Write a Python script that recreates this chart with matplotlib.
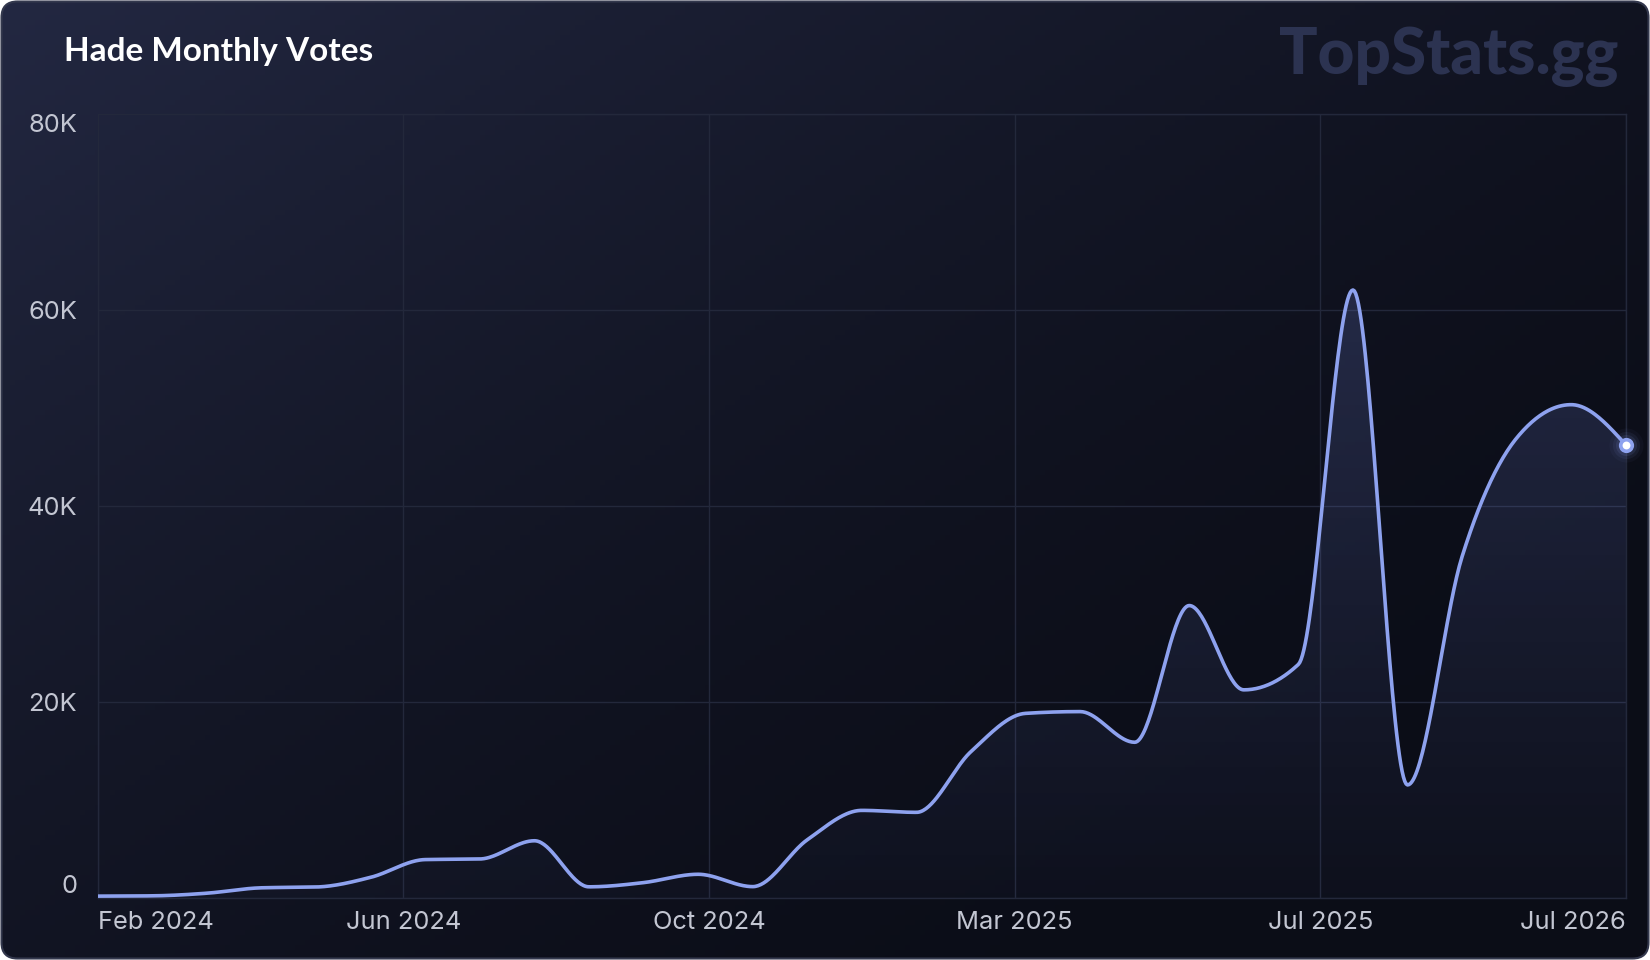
import numpy as np
import matplotlib
matplotlib.use("Agg")
import matplotlib.pyplot as plt
from matplotlib.patches import FancyBboxPatch, Polygon
from matplotlib.colors import LinearSegmentedColormap, to_rgb

# monthly votes, one value per point on the category axis
votes = [150, 180, 450, 1000, 1080, 2070, 3880, 3940, 5800, 1100,
         1530, 2380, 1120, 5900, 8900, 8700, 14900, 18800, 18980, 15850,
         29800, 21200, 23800, 62000, 11500, 34800, 46900, 50300, 46200]
tick_labels = ["Feb 2024", "Jun 2024", "Oct 2024", "Mar 2025", "Jul 2025", "Jul 2026"]
y_ticks = [0, 20000, 40000, 60000, 80000]
y_labels = ["0", "20K", "40K", "60K", "80K"]

LINE = "#8ea2ef"
GRID = "#23283b"
TXT = "#c3c6d2"
W, H = 1650, 960


def monotone(x, y, n=40):
    # d3 curveMonotoneX style (Steffen) hermite interpolation
    x = np.asarray(x, float); y = np.asarray(y, float)
    h = np.diff(x); s = np.diff(y) / h
    t = np.zeros_like(y)
    for i in range(1, len(y) - 1):
        p = (s[i - 1] * h[i] + s[i] * h[i - 1]) / (h[i - 1] + h[i])
        t[i] = (np.sign(s[i - 1]) + np.sign(s[i])) * min(abs(s[i - 1]), abs(s[i]), 0.5 * abs(p))
    t[0] = (3 * s[0] - t[1]) / 2
    t[-1] = (3 * s[-1] - t[-2]) / 2
    xs, ys = [], []
    for i in range(len(h)):
        u = np.linspace(0, 1, n, endpoint=(i == len(h) - 1))
        h00 = 2 * u**3 - 3 * u**2 + 1; h10 = u**3 - 2 * u**2 + u
        h01 = -2 * u**3 + 3 * u**2; h11 = u**3 - u**2
        xs.append(x[i] + u * h[i])
        ys.append(h00 * y[i] + h10 * h[i] * t[i] + h01 * y[i + 1] + h11 * h[i] * t[i + 1])
    return np.concatenate(xs), np.concatenate(ys)


fig = plt.figure(figsize=(W / 100, H / 100), dpi=100)
fig.patch.set_facecolor("white")

# card background
bg = fig.add_axes([0, 0, 1, 1]); bg.set_xlim(0, W); bg.set_ylim(H, 0); bg.axis("off")
gx, gy = np.meshgrid(np.linspace(0, 1, 330), np.linspace(0, 1, 192))
tt = np.clip((gx * 0.6 + gy * 0.55), 0, 1)
k = (1 - tt) ** 1.6
light = np.array(to_rgb("#232842")); dark = np.array(to_rgb("#0b0d17"))
img = dark + (light - dark) * k[..., None]
card = FancyBboxPatch((1.5, 1.5), W - 3, H - 3, boxstyle="round,pad=0,rounding_size=16",
                      fc="none", ec="#33384d", lw=1.5, transform=bg.transData, zorder=3)
bg.add_patch(card)
im = bg.imshow(img, extent=[0, W, H, 0], aspect="auto", zorder=1)
im.set_clip_path(card)

fig.text(64 / W, 1 - 52 / H, "Hade Monthly Votes", color="white", fontsize=24,
         fontweight="bold", family=["Lato", "DejaVu Sans"], va="center", ha="left")
fig.text(1618 / W, 1 - 57 / H, "TopStats.gg", color="#2c3351", fontsize=46,
         fontweight="black", family=["Lato", "DejaVu Sans"], va="center", ha="right")

ax = fig.add_axes([97.9 / W, 1 - 897.6 / H, (1625.8 - 97.9) / W, (897.6 - 113.6) / H])
ax.set_facecolor("none")
n = len(votes)
xi = np.arange(n)
ax.set_xlim(0, n - 1); ax.set_ylim(0, 80000)

xs, ys = monotone(xi, votes)

# gradient fill under the line
cmap = LinearSegmentedColormap.from_list("f", [(0.45, 0.52, 0.85, 0.03), (0.45, 0.52, 0.85, 0.22)])
grad = np.linspace(0, 1, 256)[:, None]
fill_im = ax.imshow(grad, extent=[0, n - 1, 0, max(votes)], origin="lower", aspect="auto",
                    cmap=cmap, zorder=1)
poly = Polygon(np.column_stack([np.r_[xs, xs[-1], xs[0]], np.r_[ys, 0, 0]]),
               closed=True, fc="none", ec="none", transform=ax.transData)
ax.add_patch(poly)
fill_im.set_clip_path(poly)

ax.plot(xs, ys, color=LINE, lw=2.6, zorder=3, solid_capstyle="round")

# last point marker with glow
for s, a in [(600, 0.04), (380, 0.07), (230, 0.11)]:
    ax.scatter([xi[-1]], [votes[-1]], s=s, color=LINE, alpha=a, lw=0, zorder=4, clip_on=False)
ax.scatter([xi[-1]], [votes[-1]], s=120, color=LINE, lw=0, zorder=5, clip_on=False)
ax.scatter([xi[-1]], [votes[-1]], s=32, color="white", lw=0, zorder=6, clip_on=False)

# grid
tick_pos = np.linspace(0, n - 1, len(tick_labels))
ax.set_xticks(tick_pos)
ax.set_yticks(y_ticks)
ax.grid(True, color=GRID, lw=1)
for sp in ax.spines.values():
    sp.set_color(GRID); sp.set_linewidth(1)
ax.set_axisbelow(True)

ax.set_xticklabels(tick_labels)
ax.set_yticklabels(y_labels)
ax.tick_params(length=0, colors=TXT, labelsize=18.3)
ax.tick_params(axis="x", pad=10)
ax.tick_params(axis="y", pad=15)
for lab in ax.get_xticklabels() + ax.get_yticklabels():
    lab.set_family(["Inter", "DejaVu Sans"])
xl = ax.get_xticklabels()
xl[0].set_ha("left"); xl[-1].set_ha("right")
yl = ax.get_yticklabels()
yl[0].set_va("bottom"); yl[-1].set_va("top")

plt.savefig("out.png", dpi=100)
